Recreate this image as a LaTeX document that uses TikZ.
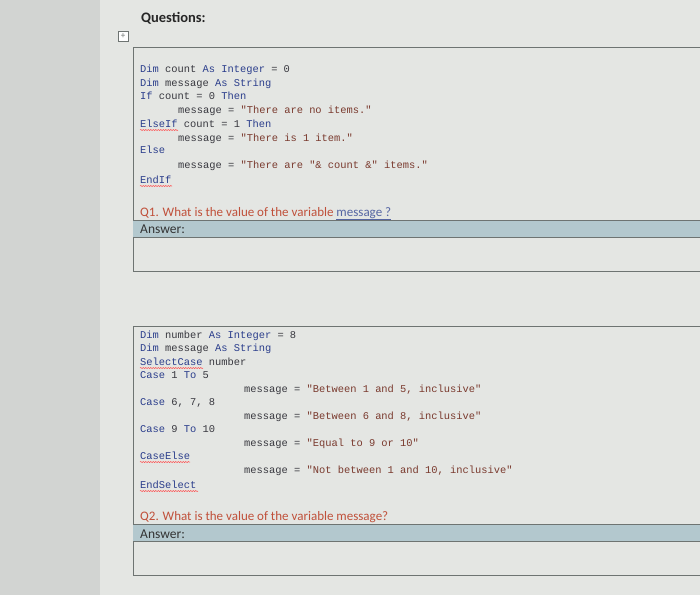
\documentclass[tikz,border=0pt]{standalone}
\usepackage{fontspec}
\setmainfont{Carlito}
\newfontfamily\codefont{Liberation Mono}
\usetikzlibrary{decorations.pathmorphing}
\definecolor{bg}{HTML}{D2D4D2}
\definecolor{page}{HTML}{E4E6E3}
\definecolor{kw}{HTML}{2B3E8C}
\definecolor{id}{HTML}{38383F}
\definecolor{str}{HTML}{7A3A2E}
\definecolor{qc}{HTML}{C0503A}
\definecolor{band}{HTML}{B3C8CE}
\definecolor{frame}{HTML}{6E7472}
\newcommand{\Kw}[1]{\textcolor{kw}{#1}}
\newcommand{\Str}[1]{\textcolor{str}{#1}}
\tikzset{code/.style={anchor=base west,inner sep=0pt,font=\codefont\fontsize{10.4}{11}\selectfont,text=id},
 qtext/.style={anchor=base west,inner sep=0pt,font=\fontsize{13}{14}\selectfont,text=qc},
 ans/.style={anchor=base west,inner sep=0pt,font=\fontsize{13.5}{14}\selectfont,text=black!80},
 boxline/.style={draw=frame,line width=1pt},
 squig/.style={draw=red!70,line width=0.5pt,decorate,decoration={snake,amplitude=0.6pt,segment length=2.5pt}}}
\begin{document}
\begin{tikzpicture}[x=1pt,y=-1pt]
\useasboundingbox (0,0) rectangle (700,595);
\fill[bg] (0,0) rectangle (700,595);
\fill[page] (100,0) rectangle (700,595);
\node[anchor=base west,inner sep=0pt,font=\bfseries\fontsize{14.5}{15}\selectfont,text=black!85] (title) at (141,22) {Questions:};
\node[draw=frame,fill=white,minimum size=10pt,inner sep=0pt,font=\fontsize{9}{9}\selectfont,text=frame] (icon) at (123,36) {+};
% box 1
\draw[boxline] (700,47) -- (133,47) -- (133,271) -- (700,271);
\fill[band] (133,220) rectangle (700,237);
\draw[boxline] (133,220) -- (700,220);
\draw[boxline] (133,237) -- (700,237);
\node[code] (a1) at (140,72) {\Kw{Dim} count \Kw{As Integer} = 0};
\node[code] (a2) at (140,86) {\Kw{Dim} message \Kw{As String}};
\node[code] (a3) at (140,99) {\Kw{If} count = 0 \Kw{Then}};
\node[code] (a4) at (178,113) {message = \Str{"There are no items."}};
\node[code] (a5) at (140,127) {\Kw{ElseIf} count = 1 \Kw{Then}};
\node[code] (a6) at (178,141) {message = \Str{"There is 1 item."}};
\node[code] (a7) at (140,153) {\Kw{Else}};
\node[code] (a8) at (178,168) {message = \Str{"There are "\& count \&" items."}};
\node[code] (a9) at (140,183) {\Kw{EndIf}};
\draw[squig] (140,130) -- (178,130);
\draw[squig] (140,186) -- (172,186);
\node[qtext] (q1) at (140,216) {Q1. What is the value of the variable \textcolor{kw!80}{\underline{message ?}}};
\node[ans] (a1ans) at (140,233) {Answer:};
% box 2
\draw[boxline] (700,326) -- (133,326) -- (133,575) -- (700,575);
\fill[band] (133,524) rectangle (700,541);
\draw[boxline] (133,524) -- (700,524);
\draw[boxline] (133,541) -- (700,541);
\node[code] (b1) at (140,338) {\Kw{Dim} number \Kw{As Integer} = 8};
\node[code] (b2) at (140,351) {\Kw{Dim} message \Kw{As String}};
\node[code] (b3) at (140,365) {\Kw{SelectCase} number};
\node[code] (b4) at (140,378) {\Kw{Case} 1 \Kw{To} 5};
\node[code] (b5) at (244,392) {message = \Str{"Between 1 and 5, inclusive"}};
\node[code] (b6) at (140,405) {\Kw{Case} 6, 7, 8};
\node[code] (b7) at (244,419) {message = \Str{"Between 6 and 8, inclusive"}};
\node[code] (b8) at (140,432) {\Kw{Case} 9 \Kw{To} 10};
\node[code] (b9) at (244,446) {message = \Str{"Equal to 9 or 10"}};
\node[code] (b10) at (140,459) {\Kw{CaseElse}};
\node[code] (b11) at (244,473) {message = \Str{"Not between 1 and 10, inclusive"}};
\node[code] (b12) at (140,488) {\Kw{EndSelect}};
\draw[squig] (140,368) -- (203,368);
\draw[squig] (140,462) -- (190,462);
\draw[squig] (140,491) -- (198,491);
\node[qtext] (q2) at (140,520) {Q2. What is the value of the variable message?};
\node[ans] (a2ans) at (140,538) {Answer:};
\end{tikzpicture}
\end{document}
